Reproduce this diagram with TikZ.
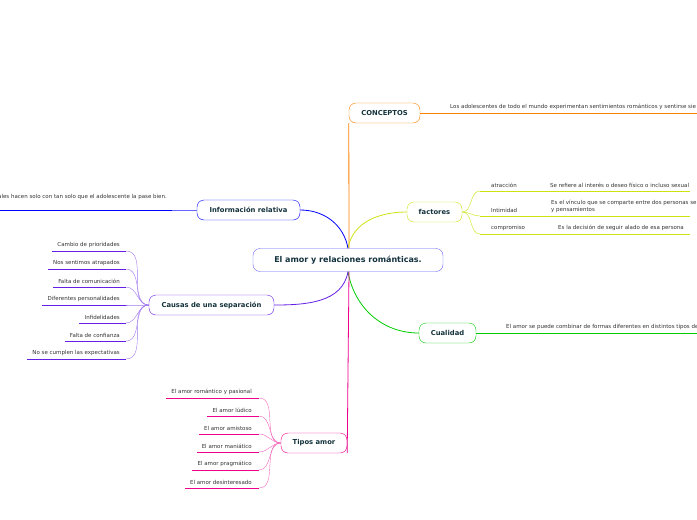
\documentclass[tikz,border=0pt]{standalone}
\usepackage{fontspec}
\setmainfont{DejaVu Sans}
\definecolor{causacol}{RGB}{100,30,230}
\definecolor{topictext}{RGB}{20,50,60}
\begin{document}
\begin{tikzpicture}[x=1pt,y=-1pt,
  topic/.style={draw,rounded corners=7pt,fill=white,font=\fontsize{6.8}{8}\selectfont\bfseries,
    text=topictext,minimum height=20pt,inner xsep=4pt},
  leaf/.style={font=\fontsize{5.5}{6.7}\selectfont,inner sep=1pt,anchor=south east,text=black!80},
  leafl/.style={font=\fontsize{5.5}{6.7}\selectfont,inner sep=1pt,anchor=south west,text=black!80,align=left}]
\clip (0,0) rectangle (697,520);
\useasboundingbox (0,0) rectangle (697,520);

% main topics
\node [topic,draw=blue!60,font=\fontsize{8}{9}\selectfont\bfseries,minimum height=23pt,minimum width=190pt] (amor) at (348,260) {El amor y relaciones románticas.};
\node [topic,draw=orange,minimum width=71pt] (conceptos) at (384.5,113) {CONCEPTOS};
\node [topic,draw=yellow!80!green,minimum width=55pt] (factores) at (434.5,212) {factores};
\node [topic,draw=green!80!black,minimum width=57pt] (cualidad) at (447.5,333) {Cualidad};
\node [topic,draw=magenta,minimum width=66pt] (tipos) at (314,443) {Tipos amor};
\node [topic,draw=causacol,minimum width=125pt] (causas) at (211.5,305) {Causas de una separación};
\node [topic,draw=blue,minimum width=103pt] (info) at (248.5,210) {Información relativa};

% connectors
\draw [orange,thick] (amor.north) ++(1,0) -- (conceptos.south west);
\draw [yellow!80!green,thick] (amor.north) to[out=80,in=180] (factores.west);
\draw [green!80!black,thick] (amor.south) to[out=-80,in=180] (cualidad.west);
\draw [causacol,thick] (amor.south) to[out=-100,in=0] (causas.east);
\draw [magenta,thick] (amor.south) ++(1,0) -- (tipos.south east);
\draw [blue,thick] (amor.north) to[out=100,in=0] (info.east);

% conceptos
\coordinate (c0) at (447,113);
\draw [orange] (conceptos.east) -- (c0);
\draw [orange,thick] (c0) -- (697,113);
\node [leafl] (ct) at (449,111) {Los adolescentes de todo el mundo experimentan sentimientos románticos y sentirse sie};

% cualidad
\coordinate (q0) at (502,333);
\draw [green!80!black] (cualidad.east) -- (q0);
\draw [green!80!black,thick] (q0) -- (697,333);
\node [leafl] (qt) at (505,331) {El amor se puede combinar de formas diferentes en distintos tipos de};

% info
\coordinate (i0) at (172,210);
\draw [blue!60] (info.west) -- (i0);
\draw [blue,thick] (i0) -- (0,210);
\node [leaf] (it) at (168,201) {ales hacen solo con tan solo que el adolescente la pase bien.};

% factores
\foreach \n/\y/\t in {a/191/atracción,b/216/Intimidad,c/234/compromiso}{
  \coordinate (f\n) at (480,\y);
  \draw [yellow!80!green,thin] (factores.east) to[out=0,in=180] (f\n);
  \draw [yellow!80!green,thick] (f\n) -- (545,\y);
  \draw [yellow!80!green,thick] (545,\y) -- (690,\y);
  \node [leafl] at (490,\y-2) {\t};
}
\node [leafl] (fa) at (549,189) {Se refiere al interés o deseo físico o incluso sexual};
\node [leafl] (fb) at (550,214) {Es el vínculo que se comparte entre dos personas se\\y pensamientos};
\node [leafl] (fc) at (557,232) {Es la decisión de seguir alado de esa persona};

% tipos amor
\foreach \y/\t [count=\i] in {398/El amor romántico y pasional,416/El amor lúdico,434/El amor amistoso,
    452/El amor maniático,470/El amor pragmático,488/El amor desinteresado}{
  \draw [magenta!60] (tipos.west) to[out=180,in=0] (259,\y);
  \node [leaf] (t\i) at (253,\y-2) {\t};
  \draw [magenta,thick] (259,\y) -- ([xshift=-4pt]t\i.west |- 0,\y);
}

% causas
\foreach \y/\t [count=\i] in {251/Cambio de prioridades,269/Nos sentimos atrapados,287/Falta de comunicación,
    305/Diferentes personalidades,323/Infidelidades,341/Falta de confianza,359/No se cumplen las expectativas}{
  \draw [causacol!60] (causas.west) to[out=180,in=0] (126,\y);
  \node [leaf] (s\i) at (121,\y-2) {\t};
  \draw [causacol,thick] (126,\y) -- ([xshift=-4pt]s\i.west |- 0,\y);
}
\end{tikzpicture}
\end{document}
